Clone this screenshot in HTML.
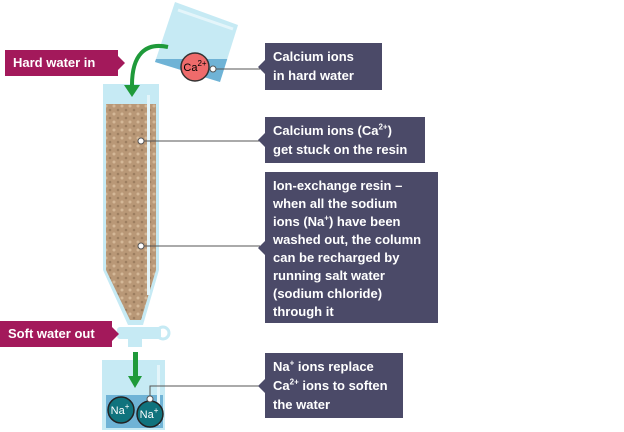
<!DOCTYPE html><html><head><style>
body{margin:0;width:624px;height:432px;background:#fff;overflow:hidden;font-family:"Liberation Sans",sans-serif}
.b{position:absolute;background:#4b4a68;color:#fff;font-weight:bold;font-size:13px;line-height:19px;padding:4px 8px;box-sizing:border-box}
.b:before{content:"";position:absolute;left:-7px;top:50%;margin-top:-7px;border:7px solid transparent;border-left:0;border-right-color:#4b4a68}
.m{position:absolute;background:#a3195b;color:#fff;font-weight:bold;font-size:13px;line-height:26px;padding-left:8px;box-sizing:border-box;height:26px}
.m:after{content:"";position:absolute;right:-7px;top:6px;border:7px solid transparent;border-right:0;border-left-color:#a3195b}
sup{font-size:8px;line-height:0}
</style></head><body>
<svg width="624" height="432" style="position:absolute;left:0;top:0">
<defs><pattern id="r" width="8" height="8" patternUnits="userSpaceOnUse"><rect width="8" height="8" fill="#b99877"/><circle cx="2" cy="2" r="1.5" fill="#d4b898"/><circle cx="6" cy="6" r="1.3" fill="#9c7d5f"/></pattern>
<clipPath id="bk"><path d="M175 2L238 25L220 82L155 62Z"/></clipPath></defs>
<!-- tilted beaker -->
<path d="M175 2L238 25L220 82L155 62Z" fill="#c6eaf4"/>
<rect x="150" y="59" width="90" height="30" fill="#6fb3d6" clip-path="url(#bk)"/>
<path d="M178 10L233 29" stroke="#e4f5fa" stroke-width="3"/>
<!-- column -->
<path d="M103 84H159V270L143 325H128L103 270Z" fill="#c6eaf4"/>
<path d="M106 104H156V270L141 320H130L106 270Z" fill="url(#r)"/>
<rect x="147" y="95" width="3" height="200" fill="#e4f5fa"/>
<rect x="117" y="327" width="44" height="12" rx="3" fill="#c6eaf4"/>
<circle cx="163" cy="333" r="6" fill="none" stroke="#c6eaf4" stroke-width="3"/>
<rect x="128" y="339" width="14" height="8" fill="#c6eaf4"/>
<!-- beaker -->
<rect x="102" y="360" width="63" height="70" fill="#c6eaf4"/>
<rect x="106" y="395" width="57" height="33" fill="#6fb3d6"/>
<rect x="157" y="365" width="3" height="60" fill="#e4f5fa"/>
<!-- arrows -->
<path d="M168 47C145 42 132 55 132 85" fill="none" stroke="#1f9a3a" stroke-width="4"/>
<path d="M124 85L132 97L140 85Z" fill="#1f9a3a"/>
<rect x="133" y="352" width="5" height="24" fill="#1f9a3a"/>
<path d="M128 376L135 388L142 376Z" fill="#1f9a3a"/>
<!-- ions -->
<circle cx="195" cy="67" r="14" fill="#ee6b6b" stroke="#333" stroke-width="1.5"/>
<text x="195" y="71" text-anchor="middle" font-size="11" font-family="Liberation Sans">Ca<tspan dy="-5" font-size="8">2+</tspan></text>
<circle cx="121" cy="410" r="13" fill="#10737d" stroke="#222" stroke-width="1.5"/>
<circle cx="150" cy="414" r="13" fill="#10737d" stroke="#222" stroke-width="1.5"/>
<text x="120" y="414" text-anchor="middle" font-size="11" fill="#fff" font-family="Liberation Sans">Na<tspan dy="-5" font-size="8">+</tspan></text>
<text x="149" y="418" text-anchor="middle" font-size="11" fill="#fff" font-family="Liberation Sans">Na<tspan dy="-5" font-size="8">+</tspan></text>
<!-- leaders -->
<g stroke="#555" fill="none" stroke-width="1"><path d="M213 69H260"/><path d="M141 141H260"/><path d="M141 246H260"/><path d="M150 399V386H260"/></g>
<g fill="#fff" stroke="#555"><circle cx="213" cy="69" r="3"/><circle cx="141" cy="141" r="3"/><circle cx="141" cy="246" r="3"/><circle cx="150" cy="399" r="3"/></g>
</svg>
<div class="m" style="left:5px;top:50px;width:113px">Hard water in</div>
<div class="m" style="left:0;top:321px;width:112px">Soft water out</div>
<div class="b" style="left:265px;top:43px;width:117px;height:47px">Calcium ions<br>in hard water</div>
<div class="b" style="left:265px;top:117px;width:160px;height:46px">Calcium ions (Ca<sup>2+</sup>)<br>get stuck on the resin</div>
<div class="b" style="left:265px;top:172px;width:173px;height:151px;line-height:18px;padding-top:5px">Ion-exchange resin –<br>when all the sodium<br>ions (Na<sup>+</sup>) have been<br>washed out, the column<br>can be recharged by<br>running salt water<br>(sodium chloride)<br>through it</div>
<div class="b" style="left:265px;top:353px;width:138px;height:65px">Na<sup>+</sup> ions replace<br>Ca<sup>2+</sup> ions to soften<br>the water</div>
</body></html>
